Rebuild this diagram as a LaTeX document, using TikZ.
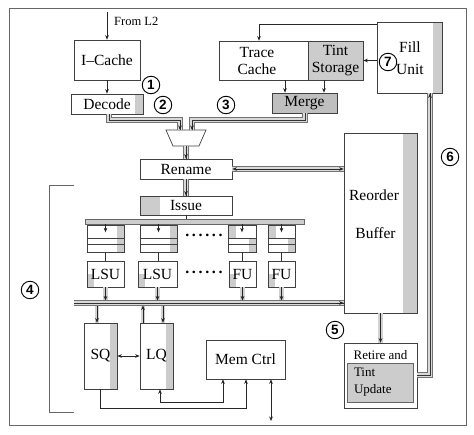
\documentclass[tikz,border=0pt]{standalone}
\usepackage{fontspec}
\setmainfont{Liberation Serif}
\newfontfamily\numfont{Liberation Sans}
\usetikzlibrary{arrows.meta,calc}
\tikzset{
 box/.style={draw=black!75, line width=0.7pt, fill=white, inner sep=0pt, align=center, font=\fontsize{15.5}{17}\selectfont},
 gbox/.style={box, fill=gray!40},
 txt/.style={inner sep=0pt, align=center, font=\fontsize{15.5}{17}\selectfont},
 frame/.style={draw=black!60, line width=0.8pt},
 thinl/.style={draw=black!80, line width=0.6pt},
 arr/.style={draw=black!85, line width=0.6pt, -{Stealth[length=4.5pt,width=3.6pt]}},
 darr/.style={draw=black!85, line width=0.6pt, {Stealth[length=4.5pt,width=3.6pt]}-{Stealth[length=4.5pt,width=3.6pt]}},
 busbg/.style={draw=black!55, line width=0.8pt, double=gray!30, double distance=3.6pt},
 busfg/.style={draw=black!80, line width=0.6pt},
 halo/.style={draw=gray!35, line width=4.5pt},
 num/.style={circle, draw=black, line width=0.9pt, fill=white, inner sep=0pt, minimum size=17.5pt, font=\numfont\bfseries\fontsize{13.5}{13.5}\selectfont},
 rstrip/.style={path picture={\fill[gray!40] ([xshift=-#1]path picture bounding box.north east) rectangle (path picture bounding box.south east);}},
 lstrip/.style={path picture={\fill[gray!40] (path picture bounding box.north west) rectangle ([xshift=#1]path picture bounding box.south west);}},
 tlbr/.style={path picture={\fill[gray!40] (path picture bounding box.north west) rectangle ([xshift=8pt,yshift=-13pt]path picture bounding box.north west); \fill[gray!40] ([xshift=-7pt,yshift=14pt]path picture bounding box.south east) rectangle (path picture bounding box.south east);}},
 blg/.style={path picture={\fill[gray!40] (path picture bounding box.south west) rectangle ([xshift=7pt,yshift=13pt]path picture bounding box.south west);}},
}
\begin{document}
\begin{tikzpicture}[x=1pt,y=-1pt]
\useasboundingbox (0,0) rectangle (474,434);
\draw[frame] (9,8) rectangle (466,425);

% ---- front end
\node[box, minimum width=66pt, minimum height=40pt] (icache) at (107,60) {I--Cache};
\node[box, rstrip=8pt, minimum width=72pt, minimum height=20pt] (decode) at (107,104) {Decode};
\node[box, minimum width=89pt, minimum height=39pt] (tc) at (263.5,60.5) {};
\node[txt] (tctext) at (257,61) {Trace\\Cache};
\node[gbox, minimum width=55pt, minimum height=39pt] (ts) at (335.5,60.5) {Tint\\Storage};
\node[gbox, fill=gray!50, minimum width=65pt, minimum height=20pt] (merge) at (304.5,103) {Merge};
\node[box, rstrip=9pt, minimum width=65pt, minimum height=71pt] (fill) at (409.5,57.5) {};
\node[txt, font=\fontsize{15.5}{22}\selectfont] (filltext) at (410,58) {Fill\\Unit};

\coordinate (l2) at (107,12);
\draw[arr] (l2) -- (icache.north);
\node[inner sep=0pt, anchor=west, font=\fontsize{12.5}{14}\selectfont] (froml2) at (114,21) {From L2};
\draw[arr] (icache) -- (decode);

% mux
\draw[draw=black!75, line width=0.7pt, fill=white] (166,130) -- (206,130) -- (199,146) -- (173,146) -- cycle;
\coordinate (mL) at (180,130);
\coordinate (mR) at (192,130);
\coordinate (muxb) at (186,146);

\node[box, minimum width=92pt, minimum height=20pt] (rename) at (186,169) {Rename};
\node[box, lstrip=20pt, minimum width=92pt, minimum height=19pt] (issue) at (186,205.5) {Issue};

% ---- back end
\node[box, rstrip=14pt, minimum width=73pt, minimum height=180pt] (rob) at (380.5,223) {};
\node[txt, font=\fontsize{15.5}{38}\selectfont] (robtext) at (374,214) {Reorder\\\hspace*{3pt}Buffer};
\node[box, minimum width=73pt, minimum height=65pt] (retire) at (380.5,375.5) {};
\node[txt, font=\fontsize{13}{15}\selectfont] (retiretext) at (380.5,355) {Retire and};
\node[box, fill=gray!40, draw=black!60, line width=0.5pt, minimum width=66pt, minimum height=39pt, text width=52pt, align=left, font=\fontsize{13}{17}\selectfont] (tintup) at (380,382.5) {Tint\\Update};

% distribution bar
\node[draw=black!60, fill=gray!40, line width=0.6pt, inner sep=0pt, minimum width=219pt, minimum height=5pt] (dbar) at (194.5,221.5) {};
\draw[thinl] (issue.south) -- (issue.south |- dbar.north);

% reservation stations
\node[box, rstrip=7pt, minimum width=37pt, minimum height=27pt] (rs1) at (105.5,238.5) {};
\node[box, rstrip=7pt, minimum width=37pt, minimum height=27pt] (rs2) at (158.5,238.5) {};
\node[box, tlbr, minimum width=28pt, minimum height=27pt] (rs3) at (242,238.5) {};
\node[box, tlbr, minimum width=27pt, minimum height=27pt] (rs4) at (281.5,238.5) {};
\foreach \r in {rs1,rs2,rs3,rs4}{
  \draw[draw=black!75, line width=0.6pt] (\r.west |- 0,238) -- (\r.east |- 0,238);
  \draw[draw=black!75, line width=0.6pt] (\r.west |- 0,244) -- (\r.east |- 0,244);
  \draw[arr] (dbar.south -| \r.north) -- ++(0,8);
}
\node[inner sep=0pt, font=\bfseries\fontsize{16}{16}\selectfont] (dots1) at (204,235) {.\,.\,.\,.\,.\,.};

% units
\node[box, blg, minimum width=37pt, minimum height=26pt] (lsu1) at (105.5,274) {LSU};
\node[box, blg, minimum width=39pt, minimum height=26pt] (lsu2) at (157.5,274) {LSU};
\node[box, blg, minimum width=27pt, minimum height=26pt] (fu1) at (242.5,274) {FU};
\node[box, blg, minimum width=27pt, minimum height=26pt] (fu2) at (281.5,274) {FU};
\node[inner sep=0pt, font=\bfseries\fontsize{16}{16}\selectfont] (dots2) at (204,272) {.\,.\,.\,.\,.\,.};
\draw[thinl] (rs1.south) -- (lsu1.north);
\draw[thinl] (rs2.south) -- (rs2.south |- lsu2.north);
\draw[thinl] (rs3.south) -- (rs3.south |- fu1.north);
\draw[thinl] (rs4.south) -- (rs4.south |- fu2.north);
\foreach \u in {lsu1,lsu2,fu1,fu2}{
  \draw[halo] (\u.south) -- (\u.south |- 0,300);
  \draw[arr] (\u.south) -- (\u.south |- 0,300.5);
}

% queues and memory
\node[box, rstrip=7pt, minimum width=33pt, minimum height=66pt] (sq) at (100.5,356) {SQ};
\node[box, rstrip=7pt, minimum width=33pt, minimum height=66pt] (lq) at (156.5,356) {LQ};
\node[box, minimum width=79pt, minimum height=39pt] (mem) at (245.5,359.5) {Mem Ctrl};

% ---- buses (banded)
\coordinate (rbL) at (74,303);
\draw[busbg] ($(decode.south)+(2,0)$) |- (mL |- 0,120) -- (mL);
\draw[busbg] ($(merge.south)+(0.5,0)$) |- (mR |- 0,120) -- (mR);
\draw[busbg] (muxb) -- (rename.north);
\draw[busbg] (rename.south) -- (issue.north);
\draw[busbg] (rename.east) -- (rob.west |- rename.east);
\draw[busbg] (rbL) -- (rob.west |- rbL);
\draw[busbg] (retire.east |- 0,375) -| ($(fill.south)+(20.5,0)$);
% ---- centre lines
\draw[busfg] ($(decode.south)+(2,0)$) |- (mL |- 0,120) -- (mL);
\draw[busfg] ($(merge.south)+(0.5,0)$) |- (mR |- 0,120) -- (mR);
\draw[busfg] (muxb) -- (rename.north);
\draw[busfg] (rename.south) -- (issue.north);
\draw[busfg] (rbL) -- (rob.west |- rbL);
\draw[busfg] (retire.east |- 0,375) -| ($(fill.south)+(20.5,0)$);
% ---- bus arrow tips
\draw[arr] ($(mL)+(0,-7)$) -- (mL);
\draw[arr] ($(mR)+(0,-7)$) -- (mR);
\draw[arr] ($(rename.north)+(0,-7)$) -- (rename.north);
\draw[arr] ($(issue.north)+(0,-7)$) -- (issue.north);
\draw[darr] (rename.east) -- (rob.west |- rename.east);
\draw[arr] ($(rob.west |- rbL)+(-8,0)$) -- (rob.west |- rbL);
\draw[arr] ($(fill.south)+(20.5,8)$) -- ($(fill.south)+(20.5,0)$);

% front-end connectors
\draw[arr] ($(fill.north west)+(0,3)$) -| ($(tc.north)+(-4.5,0)$);
\draw[arr] (fill.west |- ts.east) -- (ts.east);
\draw[arr] (tc.south -| 285,0) -- (merge.north -| 285,0);
\draw[arr] (ts.south -| 324,0) -- (merge.north -| 324,0);

% ROB to retire
\draw[halo] (rob.south) -- (retire.north);
\draw[arr] (rob.south) -- (retire.north);

% queue connectors
\draw[halo] (97,306) -- (sq.north -| 97,0);
\draw[arr] (97,306) -- (sq.north -| 97,0);
\draw[halo] (163,306) -- (lq.north -| 163,0);
\draw[arr] (163,306) -- (lq.north -| 163,0);
\draw[halo] (lq.north -| 143,0) -- (143,306);
\draw[arr] (lq.north -| 143,0) -- (143,305.5);
\draw[darr] (sq.east) -- (lq.west);
\draw[arr] (sq.south) -- ++(0,19) -| ($(mem.south)+(0.5,0)$);
\draw[darr] ($(lq.south)+(3.5,0)$) -- ++(0,13) -| ($(mem.south)+(-22.5,0)$);
\coordinate (memout) at (271,421);
\draw[darr] ($(mem.south)+(25.5,0)$) -- (memout);

% bracket
\draw[frame] (74,185) -- (49,185) -- (49,412) -- (74,412);

% numbers
\node[num] (n1) at (151,85) {1};
\node[num] (n2) at (163,105) {2};
\node[num] (n3) at (226,105) {3};
\node[num] (n4) at (30,290) {4};
\node[num] (n5) at (335,330) {5};
\node[num] (n6) at (450,157) {6};
\node[num] (n7) at (388,62) {7};
\end{tikzpicture}
\end{document}
